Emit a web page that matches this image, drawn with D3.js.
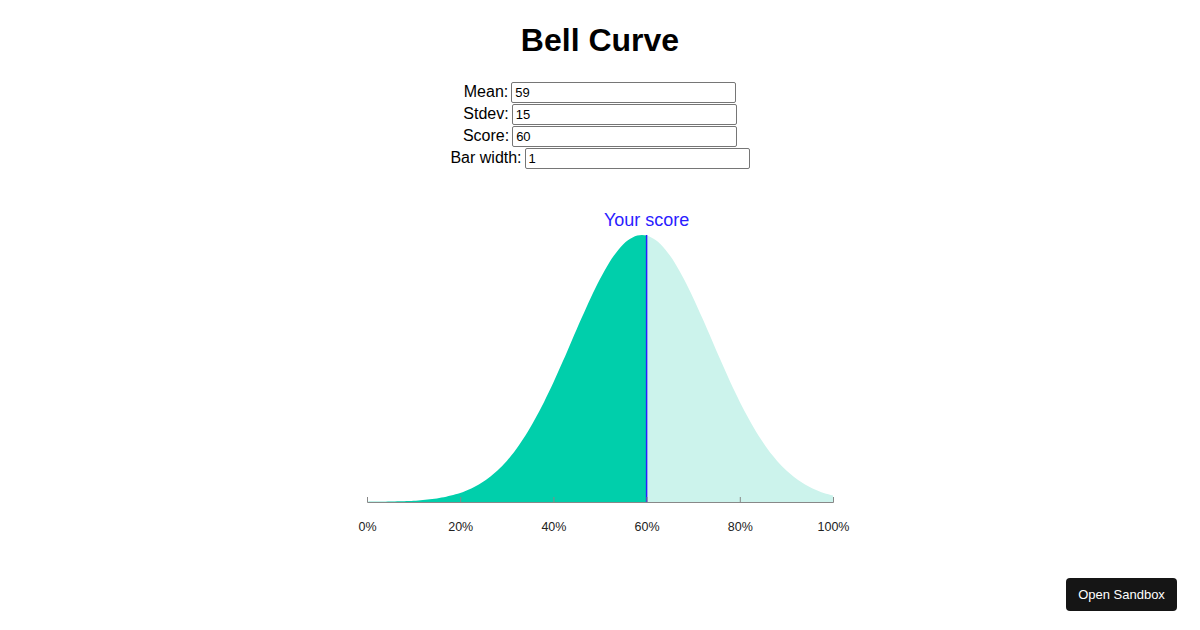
<!DOCTYPE html>
<html>
<head>
<meta charset="utf-8">
<script src="https://cdn.jsdelivr.net/npm/d3@7"></script>
<style>
  html, body { margin: 0; padding: 0; background: #fff; }
  body { width: 1200px; height: 630px; position: relative; overflow: hidden;
         font-family: "Liberation Sans", Arial, Helvetica, sans-serif; }
  h1 { position: absolute; top: 20px; left: 0; width: 1200px; margin: 0; text-align: center;
       font-size: 32px; font-weight: bold; line-height: 40px; color: #000; }
  .form { position: absolute; top: 81px; left: 0; width: 1200px; text-align: center; font-size: 16px; color: #000; }
  .row { height: 22px; line-height: 22px; white-space: nowrap; }
  .inp { display: inline-block; vertical-align: middle; box-sizing: border-box; width: 225px; height: 21px;
         border: 1px solid #767676; border-radius: 2px; text-align: left; font-size: 13px; line-height: 20px;
         padding-left: 3px; margin-left: 3px; margin-top: -1px; }
  .btn { position: absolute; left: 1066px; top: 578px; width: 111px; height: 33px; background: #151515;
         border-radius: 4px; color: #fff; font-size: 13px; line-height: 33px; text-align: center;
         font-family: "Liberation Sans", Arial, sans-serif; }
  svg { position: absolute; left: 0; top: 0; }
</style>
</head>
<body>
<h1>Bell Curve</h1>
<div class="form" id="form"></div>
<svg id="chart" width="1200" height="630"></svg>
<div class="btn">Open Sandbox</div>
<script>
// ---- data ----
const formLabels = ["Mean:", "Stdev:", "Score:", "Bar width:"];
const formValues = ["59", "15", "60", "1"];
const score = 60;
const xValues = d3.range(0, 101); // 0..100 (%)
// relative heights (peak = 1)
const heights = [
  0.00044, 0.00057, 0.00073, 0.00094, 0.00120, 0.00153, 0.00195, 0.00246, 0.00309, 0.00387,
  0.00482, 0.00598, 0.00738, 0.00908, 0.0111, 0.0135, 0.0164, 0.0198, 0.0239, 0.0286,
  0.0340, 0.0404, 0.0477, 0.0561, 0.0657, 0.0766, 0.0889, 0.103, 0.118, 0.135,
  0.154, 0.175, 0.198, 0.223, 0.249, 0.278, 0.309, 0.341, 0.375, 0.411,
  0.448, 0.487, 0.526, 0.566, 0.607, 0.647, 0.687, 0.726, 0.764, 0.801,
  0.835, 0.867, 0.897, 0.923, 0.946, 0.965, 0.980, 0.991, 0.998, 1.000,
  0.998, 0.991, 0.980, 0.965, 0.946, 0.923, 0.897, 0.867, 0.835, 0.801,
  0.764, 0.726, 0.687, 0.647, 0.607, 0.566, 0.526, 0.487, 0.448, 0.411,
  0.375, 0.341, 0.309, 0.278, 0.249, 0.223, 0.198, 0.175, 0.154, 0.135,
  0.118, 0.103, 0.0889, 0.0766, 0.0657, 0.0561, 0.0477, 0.0404, 0.0340, 0.0286,
  0.0239
];
const tickValues = [0, 20, 40, 60, 80, 100];
const scoreLabel = "Your score";

// ---- form ----
const form = d3.select("#form");
formLabels.forEach((l, i) => {
  const r = form.append("div").attr("class", "row");
  r.append("span").text(l);
  r.append("span").attr("class", "inp").text(formValues[i]);
});

// ---- chart ----
const svg = d3.select("#chart");
const x = d3.scaleLinear().domain([0, 100]).range([367, 833]);
const y = d3.scaleLinear().domain([0, 1]).range([502, 235]);
const pts = xValues.map((v, i) => ({ x: v, y: heights[i] }));

const area = d3.area().x(d => x(d.x)).y0(y(0)).y1(d => y(d.y)).curve(d3.curveMonotoneX);

svg.append("path").datum(pts.filter(d => d.x >= score))
  .attr("d", area).attr("fill", "#ccf3ec");
svg.append("path").datum(pts.filter(d => d.x <= score))
  .attr("d", area).attr("fill", "#00cfab");

svg.append("line")
  .attr("x1", x(score)).attr("x2", x(score))
  .attr("y1", y(0)).attr("y2", y(d3.max(heights)))
  .attr("stroke", "#2a1cff").attr("stroke-width", 1.5);

svg.append("text")
  .attr("x", x(score)).attr("y", 226)
  .attr("text-anchor", "middle")
  .attr("font-family", "Liberation Sans, Arial, sans-serif")
  .attr("font-size", 18).attr("fill", "#2a1cff")
  .text(scoreLabel);

const axis = d3.axisBottom(x).tickValues(tickValues)
  .tickFormat(d => d + "%").tickSizeInner(-5).tickSizeOuter(-5).tickPadding(20);
const g = svg.append("g").attr("transform", `translate(0,${y(0)})`).call(axis);
g.select(".domain").attr("stroke", "#888");
g.selectAll(".tick line").attr("stroke", "#888");
g.selectAll(".tick text").attr("font-family", "Liberation Sans, Arial, sans-serif")
  .attr("font-size", 12.5).attr("fill", "#222");
</script>
</body>
</html>
